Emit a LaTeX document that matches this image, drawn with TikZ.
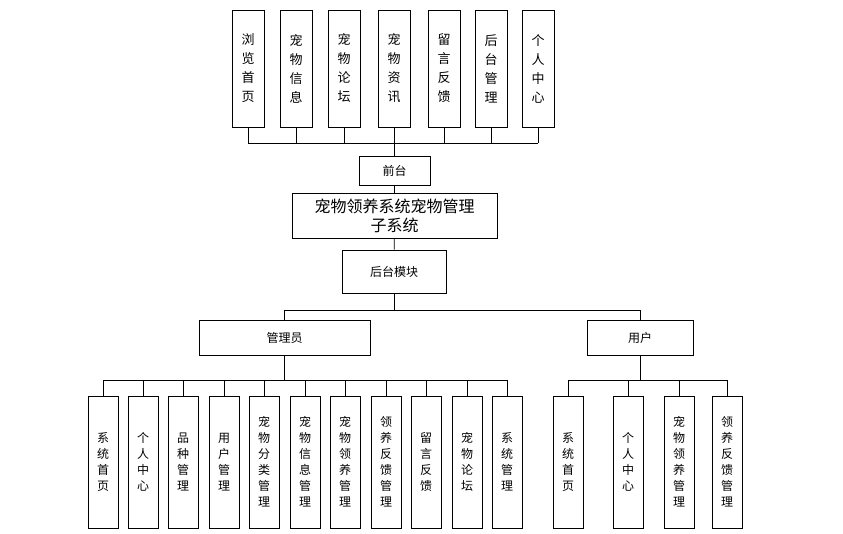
\documentclass[tikz,border=0pt]{standalone}
\usepackage{fontspec}
\newfontfamily\cjk{Noto Sans CJK SC}
\begin{document}
\begin{tikzpicture}[x=1pt,y=-1pt,
  bx/.style={draw,line width=0.8pt,inner sep=0pt,align=center,font=\cjk\fontsize{12}{16}\selectfont},
  ln/.style={line width=0.8pt}]
\useasboundingbox (0,0) rectangle (843,534);
% top row
\foreach \n/\x/\t in {t1/248/浏\\览\\首\\页, t2/296/宠\\物\\信\\息, t3/344/宠\\物\\论\\坛, t4/394/宠\\物\\资\\讯, t5/444/留\\言\\反\\馈, t6/491/后\\台\\管\\理, t7/538/个\\人\\中\\心}
  \node[bx,minimum width=32pt,minimum height=117pt,font=\cjk\fontsize{13}{19}\selectfont] (\n) at (\x,68.5) {\t};
\node[bx,minimum width=71pt,minimum height=29pt] (qt) at (394.5,170.5) {前台};
\node[bx,minimum width=205pt,minimum height=45pt,font=\cjk\fontsize{16}{19}\selectfont] (main) at (394.5,215.5) {宠物领养系统宠物管理\\子系统};
\node[bx,minimum width=104pt,minimum height=43pt] (ht) at (394,271.5) {后台模块};
\node[bx,minimum width=171pt,minimum height=35pt] (adm) at (284.5,337.5) {管理员};
\node[bx,minimum width=106pt,minimum height=35pt] (usr) at (640,337.5) {用户};
\foreach \n in {t1,t2,t3,t4,t5,t6,t7} \draw[ln] (\n.south) -- (\n.south|-0,143);
\draw[ln] (248,143) -- (538,143);
\draw[ln] (394.5,143) -- (qt.north);
\draw[ln] (qt) -- (main);
\draw[ln] (main) -- (ht);
\draw[ln] (ht.south) -- (394,310);
\draw[ln] (284.5,310) -- (640,310);
\draw[ln] (adm.north) -- (284.5,310);
\draw[ln] (usr.north) -- (640,310);
% admin children
\foreach \n/\x/\t in {a1/103/系\\统\\首\\页, a2/143/个\\人\\中\\心, a3/183/品\\种\\管\\理, a4/224/用\\户\\管\\理, a5/264/宠\\物\\分\\类\\管\\理, a6/305/宠\\物\\信\\息\\管\\理, a7/345/宠\\物\\领\\养\\管\\理, a8/386/领\\养\\反\\馈\\管\\理, a9/426/留\\言\\反\\馈, a10/467/宠\\物\\论\\坛, a11/507/系\\统\\管\\理}
{ \node[bx,minimum width=30pt,minimum height=132pt] (\n) at (\x,462) {\t};
  \draw[ln] (\n.north) -- (\x,380); }
\draw[ln] (103,380) -- (507,380);
\draw[ln] (adm.south) -- (284.5,380);
\foreach \n/\x/\t in {u1/568/系\\统\\首\\页, u2/628/个\\人\\中\\心, u3/679/宠\\物\\领\\养\\管\\理, u4/727/领\\养\\反\\馈\\管\\理}
{ \node[bx,minimum width=30pt,minimum height=132pt] (\n) at (\x,462) {\t};
  \draw[ln] (\n.north) -- (\x,380); }
\draw[ln] (568,380) -- (727,380);
\draw[ln] (usr.south) -- (640,380);
\end{tikzpicture}
\end{document}
